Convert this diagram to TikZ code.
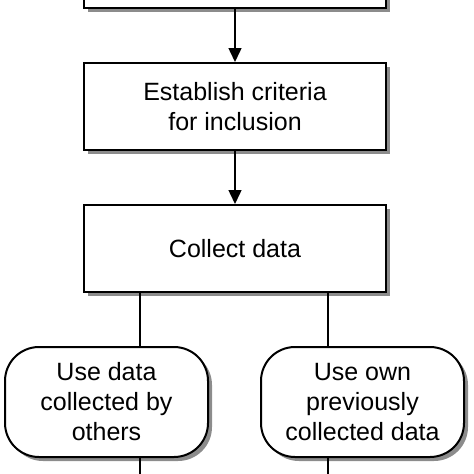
\documentclass[tikz,border=0pt]{standalone}
\usepackage{fontspec}
\setmainfont{Liberation Sans}
\usetikzlibrary{shapes,shadows,arrows.meta}

\begin{document}
\begin{tikzpicture}[->,>={Triangle[length=14pt,width=13pt]}, x=1pt, y=1pt, node distance=142pt, line width=1.5pt,
  stepbox/.style={draw, fill=white, line width=2pt, minimum width=302pt, minimum height=87pt, align=center,
    font=\fontsize{25}{30}\selectfont, drop shadow={shadow xshift=4pt, shadow yshift=-4pt, fill=black!45, opacity=1}},
  sourcebox/.style={stepbox, rounded corners=34pt, minimum width=203pt, minimum height=110pt}]
      \path [use as bounding box, clip] (0,0) rectangle (474,-474);
      \node [stepbox] (prev) at (235,35.5) {};
      \node [stepbox] (crit) [below of=prev] {Establish criteria\\for inclusion};
      \node [stepbox] (collect) [below of=crit] {Collect data};
      \node [sourcebox] (others) at (106.5,-402) {Use data\\collected by\\others};
      \node [sourcebox] (own) at (362.5,-402) {Use own\\previously\\collected data};
      \path
      (prev) edge (crit)
      (crit) edge (collect)
      ;
      \draw [-] ([xshift=33.5pt]others.north) -- ([xshift=33.5pt]others.north |- collect.south);
      \draw [-] ([xshift=-34.5pt]own.north) -- ([xshift=-34.5pt]own.north |- collect.south);
      \draw [-] ([xshift=33.5pt]others.south) -- ++(0,-25);
      \draw [-] ([xshift=-34.5pt]own.south) -- ++(0,-25);
      \end{tikzpicture}
\end{document}
